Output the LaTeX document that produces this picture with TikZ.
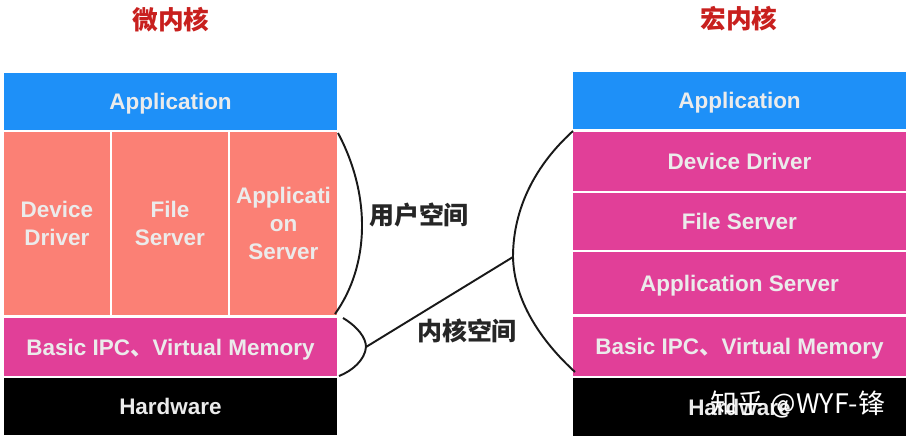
\documentclass[tikz,border=0pt]{standalone}
\usepackage{fontspec}
\setmainfont{Liberation Sans}
\newfontfamily\cjk{Noto Sans CJK SC}
\usetikzlibrary{calc}
\definecolor{appblue}{HTML}{1E90F8}
\definecolor{salmon}{HTML}{FB8075}
\definecolor{kernelpink}{HTML}{E13F98}
\definecolor{titlered}{HTML}{C8201E}
\tikzset{
	box/.style={inner sep=0pt,align=center,text depth=0pt,text=white!92!black,font=\bfseries\fontsize{12.8}{16}\selectfont},
	title/.style={font=\cjk\bfseries\fontsize{14.6}{17}\selectfont,text=titlered},
	space/.style={font=\cjk\bfseries\fontsize{14.2}{17}\selectfont,text=black!85},
	brace/.style={line width=1.1pt,black!90}
}
\begin{document}
\begin{tikzpicture}[x=0.02cm,y=-0.02cm]
	\useasboundingbox (0,0) rectangle (910,442);
	\node[title] (tmicro) at (171,20) {微内核};
	\node[title] (tmono) at (739,19) {宏内核};

	% left stack
	\node[box,fill=appblue,minimum width=6.66cm,minimum height=1.14cm] (lapp) at (170.5,101.5) {Application};
	\node[box,fill=salmon,minimum width=2.12cm,minimum height=3.66cm] (ldriver) at (57,223.5) {Device\\Driver};
	\node[box,fill=salmon,minimum width=2.32cm,minimum height=3.66cm] (lfile) at (170,223.5) {File\\Server};
	\node[box,fill=salmon,minimum width=2.14cm,minimum height=3.66cm] (lserver) at (283.5,223.5) {Applicati\\on\\Server};
	\node[box,fill=kernelpink,minimum width=6.66cm,minimum height=1.16cm] (lbasic) at (170.5,347) {Basic IPC{\cjk 、}Virtual Memory};
	\node[box,fill=black,minimum width=6.66cm,minimum height=1.14cm] (lhw) at (170.5,406.5) {Hardware};

	% right stack
	\node[box,fill=appblue,minimum width=6.66cm,minimum height=1.14cm] (rapp) at (739.5,100.5) {Application};
	\node[box,fill=kernelpink,minimum width=6.66cm,minimum height=1.18cm] (rdriver) at (739.5,161.5) {Device Driver};
	\node[box,fill=kernelpink,minimum width=6.66cm,minimum height=1.14cm] (rfile) at (739.5,221.5) {File Server};
	\node[box,fill=kernelpink,minimum width=6.66cm,minimum height=1.24cm] (rserver) at (739.5,283) {Application Server};
	\node[box,fill=kernelpink,minimum width=6.66cm,minimum height=1.18cm] (rbasic) at (739.5,346.5) {Basic IPC{\cjk 、}Virtual Memory};
	\node[box,fill=black,minimum width=6.66cm,minimum height=1.16cm] (rhw) at (739.5,407) {Hardware};

	\node[space] (user) at (419,215) {用户空间};
	\node[space] (kernel) at (467,331) {内核空间};
	\node[font=\cjk\fontsize{15.3}{18}\selectfont,text=white,inner sep=0pt] (mark) at (798,405) {知乎 @WYF-锋};

	\coordinate (a1) at (338,133);
	\coordinate (a2) at (335,314);
	\coordinate (b1) at (343,318);
	\coordinate (b2) at (339,376);
	\coordinate (c1) at (573,131);
	\coordinate (c2) at (575,372);
	\coordinate (lpeak) at (366,347);
	\coordinate (rpeak) at (513,257);
	\draw[brace] (a1) .. controls (371,195) and (370,265) .. (a2);
	\draw[brace] (b1) .. controls (358,327) and (366,338) .. (lpeak) .. controls (365,360) and (352,371) .. (b2);
	\draw[brace] (c1) .. controls (530,170) and (513,215) .. (rpeak) .. controls (514,300) and (540,340) .. (c2);
	\draw[brace] (lpeak) -- (rpeak);
\end{tikzpicture}
\end{document}
